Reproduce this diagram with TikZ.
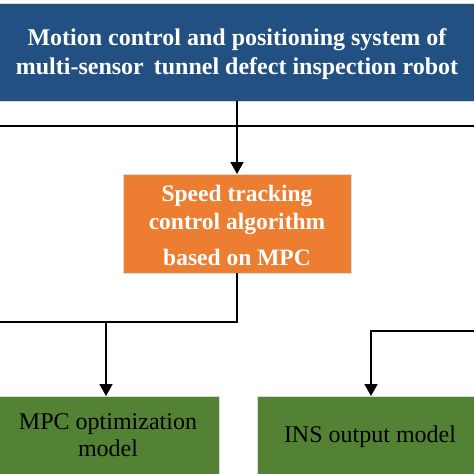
\documentclass[tikz,border=0pt]{standalone}
\usepackage{fontspec}
\setmainfont{Liberation Serif}
\usetikzlibrary{arrows.meta}
\definecolor{topblue}{RGB}{35,80,130}
\definecolor{midorange}{RGB}{237,125,49}
\definecolor{lowgreen}{RGB}{84,130,53}
\tikzset{
  x=1pt,y=-1pt,
  boxbase/.style={draw=black!15,line width=0.8pt,inner sep=0pt,outer sep=0pt},
  conn/.style={line width=1.8pt,draw=black},
  arr/.style={conn,-{Triangle[width=13pt,length=12pt]}},
}
\begin{document}
\begin{tikzpicture}
\useasboundingbox (0,0) rectangle (474,474);
\begin{scope}
\clip (0,0) rectangle (474,474);
% top box
\fill[topblue] (-5,3) rectangle (480,101);
\draw[black!15,line width=0.8pt] (-5,3) -- (480,3) (-5,101) -- (480,101);
\node[text=white,font=\fontsize{24}{29}\selectfont\bfseries,align=center] (top) at (237,54)
  {Motion control and positioning system of\\multi-sensor\, tunnel defect inspection robot};
\coordinate (topb) at (237,101);
% orange box
\node[boxbase,fill=midorange,minimum width=228pt,minimum height=99pt] (mpc) at (237,223.5) {};
\node[text=white,font=\fontsize{23.5}{28}\selectfont\bfseries,align=center] at (237,225)
  {Speed tracking\\control algorithm\\[8pt]based on MPC};
% green boxes
\node[boxbase,fill=lowgreen,minimum width=229pt,minimum height=90pt,anchor=north east] (opt) at (219,396) {};
\node[font=\fontsize{24}{27}\selectfont,align=center] at (108,435) {MPC optimization\\model};
\node[boxbase,fill=lowgreen,minimum width=229pt,minimum height=90pt,anchor=north west] (ins) at (257,396) {};
\node[font=\fontsize{24}{27}\selectfont] at (370,437) {INS output model};
% connectors
\coordinate (j1) at (237,126);
\coordinate (hl) at (-5,126);
\coordinate (hr) at (480,126);
\draw[conn] (topb) -- (j1);
\draw[conn] (hl) -- (hr);
\draw[arr] (j1) -- (mpc.north);
\coordinate (j2) at (237,322);
\coordinate (l2) at (-5,322);
\coordinate (d2) at (106,322);
\draw[conn] (mpc.south) -- (j2) -- (l2);
\draw[arr] (d2) -- (opt.north -| d2);
\coordinate (r3) at (480,331);
\coordinate (d3) at (371,331);
\draw[arr] (r3) -- (d3) -- (ins.north -| d3);
\end{scope}
\end{tikzpicture}
\end{document}
